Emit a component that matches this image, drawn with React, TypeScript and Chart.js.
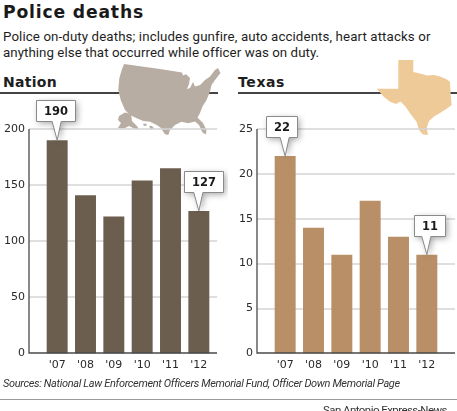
import React, { useEffect, useRef } from "react";
import { Chart, registerables } from "chart.js";
Chart.register(...registerables);

// ---- data ----
const years = ["'07", "'08", "'09", "'10", "'11", "'12"];
const nationDeaths = [190, 141, 122, 154, 165, 127];
const texasDeaths = [22, 14, 11, 17, 13, 11];
const nationTicks = [0, 50, 100, 150, 200];
const texasTicks = [0, 5, 10, 15, 20, 25];
const nationCalloutIdx = [0, 5];
const texasCalloutIdx = [0, 5];

const TICK_FONT = "'DejaVu Sans', sans-serif";
const TEXT_FONT = "Roboto, 'Liberation Sans', sans-serif";
const HEAD_FONT = "'DejaVu Sans', sans-serif";

let measureCtx: CanvasRenderingContext2D | null = null;
function fitSpacing(text: string, font: string, target: number): number {
  if (!measureCtx) measureCtx = document.createElement("canvas").getContext("2d");
  if (!measureCtx) return 0;
  measureCtx.font = font;
  const w = measureCtx.measureText(text).width;
  return (target - w) / text.length;
}

type PanelProps = {
  labels: string[];
  values: number[];
  ticks: number[];
  callouts: number[];
  calloutDx: number[];
  color: string;
  width: number;
  gridRight: number;
};

const gridPlugin = {
  id: "customGrid",
  beforeDatasetsDraw(chart: any, _args: any, opts: any) {
    const { ctx } = chart;
    const y = chart.scales.y;
    ctx.save();
    y.ticks.forEach((t: any) => {
      if (t.value === 0) return;
      const py = Math.round(y.getPixelForValue(t.value));
      ctx.strokeStyle = "#d4d4d4";
      ctx.lineWidth = 1.6;
      ctx.beginPath();
      ctx.moveTo(opts.left, py);
      ctx.lineTo(opts.right, py);
      ctx.stroke();
    });
    ctx.restore();
  },
  afterDatasetsDraw(chart: any, _args: any, opts: any) {
    const { ctx } = chart;
    const y = chart.scales.y;
    const top = Math.round(y.getPixelForValue(y.max));
    const base = Math.round(y.getPixelForValue(0));
    ctx.save();
    ctx.strokeStyle = "#4a4a4a";
    ctx.lineWidth = 1.3;
    ctx.beginPath();
    ctx.moveTo(opts.left, top);
    ctx.lineTo(opts.left, base);
    ctx.lineTo(opts.right, base);
    ctx.stroke();
    ctx.restore();
  },
};

const calloutPlugin = {
  id: "callouts",
  afterDatasetsDraw(chart: any, _args: any, opts: any) {
    const { ctx } = chart;
    const meta = chart.getDatasetMeta(0);
    const data = chart.data.datasets[0].data;
    ctx.save();
    ctx.font = `bold 11.5px ${TICK_FONT}`;
    (opts.indices as number[]).forEach((idx: number, k: number) => {
      const bar = meta.data[idx];
      const text = String(data[idx]);
      const tw = ctx.measureText(text).width;
      const w = Math.round(tw + 15);
      const h = 21;
      const tipX = bar.x;
      const tipY = bar.y;
      const cx = bar.x + opts.dx[k];
      const bx = Math.round(cx - w / 2) + 0.5;
      const by = Math.round(tipY - 19 - h) + 0.5;
      const bBottom = by + h;
      const baseL = tipX - 5;
      const baseR = tipX + 4;
      const path = () => {
        ctx.beginPath();
        ctx.moveTo(bx, by);
        ctx.lineTo(bx + w, by);
        ctx.lineTo(bx + w, bBottom);
        ctx.lineTo(baseR, bBottom);
        ctx.lineTo(tipX, tipY);
        ctx.lineTo(baseL, bBottom);
        ctx.lineTo(bx, bBottom);
        ctx.closePath();
      };
      ctx.save();
      ctx.shadowColor = "rgba(0,0,0,0.35)";
      ctx.shadowBlur = 6;
      ctx.shadowOffsetX = 2;
      ctx.shadowOffsetY = 2;
      ctx.fillStyle = "#ffffff";
      path();
      ctx.fill();
      ctx.restore();
      ctx.strokeStyle = "#8a8a8a";
      ctx.lineWidth = 1;
      path();
      ctx.stroke();
      ctx.fillStyle = "#1a1a1a";
      ctx.textAlign = "center";
      ctx.textBaseline = "middle";
      ctx.fillText(text, bx + w / 2, by + h / 2 + 1);
    });
    ctx.restore();
  },
};

const CANVAS_H = 283;

function Panel(p: PanelProps) {
  const ref = useRef<HTMLCanvasElement | null>(null);
  useEffect(() => {
    if (!ref.current) return;
    const chart = new Chart(ref.current, {
      type: "bar",
      data: {
        labels: p.labels,
        datasets: [
          {
            data: p.values,
            backgroundColor: p.color,
            borderWidth: 0,
            barPercentage: 0.74,
            categoryPercentage: 1,
          },
        ],
      },
      options: {
        animation: false,
        responsive: false,
        maintainAspectRatio: false,
        devicePixelRatio: 1,
        layout: { padding: { top: 34, right: p.width - 213, left: 0, bottom: 0 } },
        plugins: {
          legend: { display: false },
          tooltip: { enabled: false },
          customGrid: { left: 29, right: p.gridRight },
          callouts: { indices: p.callouts, dx: p.calloutDx },
        } as any,
        scales: {
          x: {
            grid: { display: false, drawTicks: false },
            border: { display: false },
            ticks: {
              color: "#2a2a2a",
              font: { family: TICK_FONT, size: 11 },
              padding: 5,
              maxRotation: 0,
            },
            afterFit: (s: any) => {
              s.height = 20;
            },
          },
          y: {
            min: 0,
            max: p.ticks[p.ticks.length - 1],
            afterBuildTicks: (s: any) => {
              s.ticks = p.ticks.map((v) => ({ value: v }));
            },
            grid: { display: false, drawTicks: false },
            border: { display: false },
            ticks: {
              color: "#2a2a2a",
              font: { family: TICK_FONT, size: 11 },
              padding: 18,
            },
            afterFit: (s: any) => {
              s.width = 43;
            },
          },
        },
      },
      plugins: [gridPlugin, calloutPlugin],
    });
    return () => chart.destroy();
  }, []);
  return <canvas ref={ref} width={p.width} height={CANVAS_H} style={{ width: p.width, height: CANVAS_H, display: "block" }} />;
}

const usMain =
  "M124,64 L160,69 L182,72.5 L183,75.5 L186,74.3 L190,78 L189,84 L187,89 L190,88 L193,82 L195,86.5 L200,85 L205,80 L210,76.5 L215,70 L218,68 L220.5,73 L215,80 L211.5,85 L210,91.5 L206.5,100 L202.5,106.5 L200,113 L197.5,117.5 L203,123 L206.5,130 L206,134.5 L202.5,132.5 L199,125 L195,121.5 L188,123.3 L181.5,121.7 L175,125 L170,130 L168.3,135 L165,134.3 L160.7,127.7 L156.7,125 L150,121.7 L143.3,121 L136.7,118.3 L130,115 L125,110 L120.7,100 L118.3,90 L119.3,78.3 L121.7,70 Z";
const alaska =
  "M119,116 L125,112.5 L131,114 L132,121 L137,126 L139,129.5 L134,128.5 L129,126 L124,128.5 L118,128 L121,123 L118,120 Z";
const hawaii = "M143,124 L146,123.5 L147,125.5 L144,126 Z M149,126 L152,126 L154,128.5 L151,129.5 Z";
const texasShape =
  "M398.3,60 L413.3,60 L413.3,72 L420,73.5 L427,75.5 L434,75 L440,76.5 L446,79 L450,81.7 L450.5,92 L451.7,105 L447,108.5 L440,113 L434,116.5 L429,121 L426.7,128 L428,135 L423,134.5 L419,130 L416.7,122 L410,113.3 L405,106 L400.5,101.5 L396,104 L390,101.7 L384,97 L380,92.5 L376.7,88.8 L398.3,88.8 Z";

const TITLE = "Police deaths";
const SUB1 = "Police on-duty deaths; includes gunfire, auto accidents, heart attacks or";
const SUB2 = "anything else that occurred while officer was on duty.";
const SOURCES = "Sources: National Law Enforcement Officers Memorial Fund, Officer Down Memorial Page";
const CREDIT = "San Antonio Express-News";

function FitText(props: { text: string; family: string; size: number; weight?: number; italic?: boolean; width: number; style: React.CSSProperties }) {
  const { text, family, size, weight = 400, italic = false, width, style } = props;
  const font = `${italic ? "italic " : ""}${weight} ${size}px ${family}`;
  const ls = fitSpacing(text, font, width);
  return (
    <div
      style={{
        position: "absolute",
        margin: 0,
        whiteSpace: "nowrap",
        fontFamily: family,
        fontSize: size,
        fontWeight: weight,
        fontStyle: italic ? "italic" : "normal",
        letterSpacing: ls,
        lineHeight: `${Math.round(size * 1.2)}px`,
        ...style,
      }}
    >
      {text}
    </div>
  );
}

export default function App() {
  return (
    <div
      style={{
        position: "fixed",
        left: 0,
        top: 0,
        width: 457,
        height: 411,
        background: "#ffffff",
        overflow: "hidden",
        color: "#1e1e1e",
        fontFamily: TEXT_FONT,
      }}
    >
      <FitText text={TITLE} family={HEAD_FONT} size={17.2} weight={700} width={141} style={{ left: 3, top: 1.5, color: "#1a1a1a" }} />
      <FitText text={SUB1} family={TEXT_FONT} size={13.3} width={427} style={{ left: 3, top: 29 }} />
      <FitText text={SUB2} family={TEXT_FONT} size={13.3} width={315} style={{ left: 3, top: 44.7 }} />
      <FitText text="Nation" family={HEAD_FONT} size={14} weight={700} width={54} style={{ left: 3, top: 74 }} />
      <FitText text="Texas" family={HEAD_FONT} size={14} weight={700} width={47} style={{ left: 238, top: 74 }} />
      <div style={{ position: "absolute", left: 0, top: 92, width: 218, height: 1.5, background: "#444" }} />
      <div style={{ position: "absolute", left: 238, top: 92, width: 219, height: 1.5, background: "#444" }} />
      <svg width={457} height={411} style={{ position: "absolute", left: 0, top: 0 }}>
        <path d={usMain} fill="#b8ada2" />
        <path d={alaska} fill="#b8ada2" />
        <path d={hawaii} fill="#b8ada2" />
        <path d={texasShape} fill="#efca99" />
      </svg>
      <div style={{ position: "absolute", left: 0, top: 95 }}>
        <Panel
          labels={years}
          values={nationDeaths}
          ticks={nationTicks}
          callouts={nationCalloutIdx}
          calloutDx={[-2, 5]}
          color="#6c5e4f"
          width={228}
          gridRight={217}
        />
      </div>
      <div style={{ position: "absolute", left: 228, top: 95 }}>
        <Panel
          labels={years}
          values={texasDeaths}
          ticks={texasTicks}
          callouts={texasCalloutIdx}
          calloutDx={[-4, 3]}
          color="#b98f67"
          width={229}
          gridRight={227}
        />
      </div>
      <FitText text={SOURCES} family={TEXT_FONT} size={11} italic width={395} style={{ left: 3, top: 377, color: "#333" }} />
      <div style={{ position: "absolute", left: 0, top: 399, width: 457, height: 1, background: "#9a9a9a" }} />
      <FitText text={CREDIT} family={TEXT_FONT} size={11.5} width={124} style={{ left: 323, top: 403, color: "#333" }} />
    </div>
  );
}
